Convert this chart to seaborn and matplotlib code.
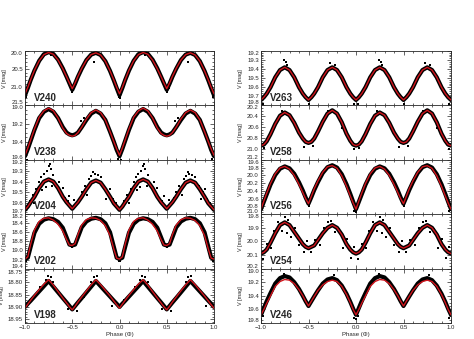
import matplotlib
matplotlib.use("Agg")
import matplotlib.pyplot as plt
import seaborn as sns
import pandas as pd
from matplotlib.ticker import MultipleLocator, FormatStrFormatter

sns.set_style("ticks")
plt.rcParams['font.family'] = ['Liberation Sans', 'DejaVu Sans']

# phase grid of one cycle (data are shown twice, -1..0 and 0..1, as in the source)
PHASE = [0.00, 0.03, 0.06, 0.10, 0.15, 0.20, 0.25, 0.30, 0.35, 0.40, 0.44, 0.47, 0.50,
         0.53, 0.56, 0.60, 0.65, 0.70, 0.75, 0.80, 0.85, 0.90, 0.94, 0.97, 1.00]

STARS_LEFT = ["V240", "V238", "V204", "V202", "V198"]
STARS_RIGHT = ["V263", "V258", "V256", "V254", "V246"]

# observed light curves (V mag)
V240_OBS = [21.22, 21.02, 20.80, 20.54, 20.27, 20.09, 20.03, 20.08, 20.24, 20.48, 20.71, 20.89, 21.07,
            20.90, 20.71, 20.49, 20.25, 20.10, 20.05, 20.11, 20.28, 20.55, 20.81, 21.02, 21.22]
V238_OBS = [19.56, 19.48, 19.39, 19.27, 19.14, 19.07, 19.04, 19.07, 19.14, 19.24, 19.30, 19.32, 19.33,
            19.32, 19.30, 19.24, 19.16, 19.09, 19.06, 19.09, 19.16, 19.29, 19.40, 19.49, 19.56]
V204_OBS = [19.66, 19.63, 19.59, 19.54, 19.46, 19.40, 19.38, 19.40, 19.46, 19.54, 19.59, 19.62, 19.65,
            19.62, 19.59, 19.54, 19.47, 19.41, 19.39, 19.41, 19.47, 19.54, 19.60, 19.63, 19.66]
V202_OBS = [19.19, 19.16, 18.92, 18.61, 18.41, 18.32, 18.29, 18.31, 18.37, 18.50, 18.71, 18.87, 18.89,
            18.87, 18.71, 18.49, 18.36, 18.30, 18.28, 18.31, 18.40, 18.60, 18.92, 19.16, 19.19]
V198_OBS = [18.900, 18.887, 18.875, 18.858, 18.837, 18.816, 18.795, 18.818, 18.841, 18.864, 18.882, 18.896, 18.910,
            18.896, 18.882, 18.864, 18.841, 18.818, 18.795, 18.816, 18.837, 18.858, 18.875, 18.887, 18.900]
V263_OBS = [19.74, 19.71, 19.67, 19.60, 19.49, 19.41, 19.38, 19.41, 19.49, 19.60, 19.67, 19.71, 19.74,
            19.71, 19.67, 19.60, 19.49, 19.41, 19.38, 19.41, 19.49, 19.60, 19.67, 19.71, 19.74]
V258_OBS = [20.94, 20.92, 20.86, 20.73, 20.54, 20.39, 20.33, 20.38, 20.52, 20.70, 20.81, 20.87, 20.89,
            20.87, 20.81, 20.68, 20.50, 20.35, 20.29, 20.35, 20.51, 20.72, 20.85, 20.92, 20.94]
V256_OBS = [20.87, 20.68, 20.49, 20.24, 19.99, 19.83, 19.77, 19.82, 19.96, 20.18, 20.39, 20.57, 20.73,
            20.56, 20.38, 20.17, 19.94, 19.79, 19.74, 19.80, 19.97, 20.23, 20.48, 20.68, 20.87]
V254_OBS = [20.09, 20.08, 20.06, 20.01, 19.94, 19.88, 19.86, 19.88, 19.93, 19.98, 20.02, 20.04, 20.05,
            20.04, 20.03, 19.99, 19.94, 19.90, 19.88, 19.90, 19.95, 20.02, 20.06, 20.08, 20.09]
V246_OBS = [19.68, 19.58, 19.48, 19.36, 19.22, 19.14, 19.11, 19.13, 19.20, 19.30, 19.40, 19.48, 19.55,
            19.48, 19.41, 19.32, 19.22, 19.16, 19.14, 19.17, 19.25, 19.37, 19.49, 19.59, 19.68]

# model fits (red)
V240_MOD = [21.18, 21.00, 20.79, 20.53, 20.27, 20.10, 20.04, 20.09, 20.25, 20.49, 20.71, 20.88, 21.04,
            20.88, 20.70, 20.48, 20.25, 20.10, 20.05, 20.11, 20.28, 20.55, 20.80, 21.00, 21.18]
V238_MOD = [19.55, 19.47, 19.38, 19.26, 19.13, 19.06, 19.03, 19.06, 19.14, 19.25, 19.31, 19.33, 19.34,
            19.33, 19.30, 19.24, 19.15, 19.08, 19.05, 19.08, 19.16, 19.29, 19.40, 19.48, 19.55]
V204_MOD = V204_OBS
V202_MOD = [19.19, 19.14, 18.86, 18.55, 18.36, 18.29, 18.28, 18.33, 18.42, 18.57, 18.76, 18.88, 18.89,
            18.85, 18.65, 18.44, 18.32, 18.28, 18.29, 18.34, 18.45, 18.67, 18.97, 19.17, 19.19]
V198_MOD = [18.905, 18.889, 18.873, 18.853, 18.830, 18.808, 18.790, 18.812, 18.838, 18.864, 18.884, 18.899, 18.912,
            18.897, 18.880, 18.860, 18.835, 18.811, 18.790, 18.810, 18.833, 18.856, 18.876, 18.891, 18.905]
V263_MOD = V263_OBS
V258_MOD = V258_OBS
V256_MOD = [20.87, 20.66, 20.46, 20.21, 19.96, 19.81, 19.77, 19.84, 20.00, 20.23, 20.44, 20.60, 20.73,
            20.54, 20.35, 20.14, 19.92, 19.78, 19.75, 19.82, 20.01, 20.28, 20.53, 20.71, 20.87]
V254_MOD = V254_OBS
V246_MOD = [19.68, 19.60, 19.51, 19.40, 19.26, 19.19, 19.16, 19.17, 19.22, 19.31, 19.40, 19.48, 19.55,
            19.48, 19.41, 19.32, 19.24, 19.19, 19.17, 19.19, 19.26, 19.38, 19.50, 19.60, 19.68]

# scattered individual measurements away from the main band (phase in 0..1)
V240_OUT_PH = [0.00, 0.01, 0.99, 0.50, 0.52, 0.73, 0.27]
V240_OUT_MAG = [21.30, 21.27, 21.28, 21.12, 21.02, 20.30, 20.12]
V238_OUT_PH = [0.59, 0.02, 0.98, 0.62, 0.26]
V238_OUT_MAG = [19.17, 19.60, 19.59, 19.14, 19.00]
V204_OUT_PH = [0.05, 0.08, 0.12, 0.15, 0.17, 0.20, 0.23, 0.25, 0.26, 0.27, 0.30, 0.32, 0.35, 0.38,
               0.40, 0.42, 0.45, 0.55, 0.58, 0.60, 0.63, 0.68, 0.72, 0.74, 0.77, 0.80, 0.84, 0.88,
               0.90, 0.93, 0.96, 0.10, 0.22, 0.36, 0.66, 0.86, 0.18, 0.29, 0.47, 0.52, 0.70, 0.82]
V204_OUT_MAG = [19.58, 19.52, 19.47, 19.40, 19.36, 19.33, 19.30, 19.26, 19.24, 19.28, 19.34, 19.42,
                19.47, 19.50, 19.46, 19.55, 19.58, 19.60, 19.55, 19.50, 19.44, 19.38, 19.31, 19.33,
                19.34, 19.36, 19.44, 19.50, 19.47, 19.56, 19.60, 19.60, 19.45, 19.40, 19.52, 19.56,
                19.48, 19.44, 19.53, 19.57, 19.35, 19.42]
V202_OUT_PH = [0.01, 0.99, 0.50]
V202_OUT_MAG = [19.24, 19.23, 18.93]
V198_OUT_PH = [0.24, 0.27, 0.76, 0.73, 0.22, 0.45, 0.92, 0.55, 0.30, 0.70, 0.05, 0.62, 0.16]
V198_OUT_MAG = [18.775, 18.780, 18.775, 18.780, 18.790, 18.910, 18.895, 18.915, 18.800, 18.800, 18.870, 18.860, 18.820]
V263_OUT_PH = [0.24, 0.26, 0.27, 0.73, 0.78, 0.02, 0.98, 0.50]
V263_OUT_MAG = [19.30, 19.32, 19.35, 19.33, 19.35, 19.79, 19.78, 19.78]
V258_OUT_PH = [0.45, 0.98, 0.03, 0.55, 0.85, 0.22, 0.70]
V258_OUT_MAG = [20.97, 21.00, 20.98, 20.95, 20.62, 20.30, 20.30]
V256_OUT_PH = [0.00, 0.50, 0.98]
V256_OUT_MAG = [20.95, 20.80, 20.93]
V254_OUT_PH = [0.02, 0.06, 0.10, 0.14, 0.18, 0.22, 0.25, 0.28, 0.32, 0.36, 0.40, 0.45, 0.48,
               0.53, 0.57, 0.62, 0.66, 0.70, 0.74, 0.78, 0.82, 0.86, 0.90, 0.95, 0.98, 0.27, 0.12]
V254_OUT_MAG = [20.13, 20.02, 20.05, 19.92, 19.86, 19.92, 19.82, 19.84, 19.97, 19.90, 20.03, 20.08, 20.00,
                20.08, 19.99, 20.03, 19.90, 19.86, 19.85, 19.93, 19.91, 20.05, 19.98, 20.12, 20.04, 19.94, 20.00]
V246_OUT_PH = [0.00, 0.02, 0.98, 0.24, 0.77]
V246_OUT_MAG = [19.74, 19.70, 19.72, 19.08, 19.10]

OBS = {"V240": V240_OBS, "V238": V238_OBS, "V204": V204_OBS, "V202": V202_OBS, "V198": V198_OBS,
       "V263": V263_OBS, "V258": V258_OBS, "V256": V256_OBS, "V254": V254_OBS, "V246": V246_OBS}
MOD = {"V240": V240_MOD, "V238": V238_MOD, "V204": V204_MOD, "V202": V202_MOD, "V198": V198_MOD,
       "V263": V263_MOD, "V258": V258_MOD, "V256": V256_MOD, "V254": V254_MOD, "V246": V246_MOD}
OUT = {"V240": (V240_OUT_PH, V240_OUT_MAG), "V238": (V238_OUT_PH, V238_OUT_MAG),
       "V204": (V204_OUT_PH, V204_OUT_MAG), "V202": (V202_OUT_PH, V202_OUT_MAG),
       "V198": (V198_OUT_PH, V198_OUT_MAG), "V263": (V263_OUT_PH, V263_OUT_MAG),
       "V258": (V258_OUT_PH, V258_OUT_MAG), "V256": (V256_OUT_PH, V256_OUT_MAG),
       "V254": (V254_OUT_PH, V254_OUT_MAG), "V246": (V246_OUT_PH, V246_OUT_MAG)}

# y axis ranges (faint, bright), major and minor tick steps, label format
YAX = {"V240": (21.5, 20.0, 0.5, 0.1, "%.1f"), "V238": (19.6, 19.0, 0.2, 0.05, "%.1f"),
       "V204": (19.7, 19.2, 0.1, 0.02, "%.1f"), "V202": (19.4, 18.2, 0.2, 0.05, "%.1f"),
       "V198": (18.965, 18.745, 0.05, 0.01, "%.2f"), "V263": (19.8, 19.2, 0.1, 0.02, "%.1f"),
       "V258": (21.2, 20.2, 0.2, 0.05, "%.1f"), "V256": (21.0, 19.6, 0.2, 0.05, "%.1f"),
       "V254": (20.2, 19.8, 0.1, 0.02, "%.1f"), "V246": (19.8, 19.0, 0.2, 0.05, "%.1f")}


def both_cycles(ph, mag):
    x = [p - 1 for p in ph] + list(ph[1:])
    y = list(mag) + list(mag[1:])
    return pd.DataFrame({"phase": x, "mag": y})


W, H = 474, 339
fig = plt.figure(figsize=(W / 100, H / 100), dpi=100)

top_px, bot_px = 51, 323
ph_h = (bot_px - top_px) / 5
cols = [(25, 189, STARS_LEFT), (261, 190, STARS_RIGHT)]
axes = []

for left_px, width_px, stars in cols:
    for i, star in enumerate(stars):
        y_top = top_px + i * ph_h
        ax = fig.add_axes([left_px / W, 1 - (y_top + ph_h) / H, width_px / W, ph_h / H])
        obs = both_cycles(PHASE, OBS[star])
        mod = both_cycles(PHASE, MOD[star])
        oph, omag = OUT[star]
        outdf = pd.DataFrame({"phase": [p - 1 for p in oph] + list(oph), "mag": list(omag) + list(omag)})
        sns.lineplot(data=obs, x="phase", y="mag", sort=False, estimator=None, color="black",
                     lw=3.0, ax=ax)
        sns.scatterplot(data=outdf, x="phase", y="mag", color="black", s=3, marker="s",
                        linewidth=0, ax=ax)
        sns.lineplot(data=mod, x="phase", y="mag", sort=False, estimator=None, color="#d0141c",
                     lw=1.0, ax=ax)
        faint, bright, maj, mnr, fmt = YAX[star]
        ax.set_ylim(faint, bright)
        ax.set_xlim(-1.0, 1.0)
        ax.yaxis.set_major_locator(MultipleLocator(maj))
        ax.yaxis.set_minor_locator(MultipleLocator(mnr))
        ax.yaxis.set_major_formatter(FormatStrFormatter(fmt))
        ax.xaxis.set_major_locator(MultipleLocator(0.5))
        ax.xaxis.set_minor_locator(MultipleLocator(0.1))
        ax.tick_params(which="both", direction="in", top=True, right=True, width=0.5,
                       labelsize=4.3, pad=1.5)
        ax.tick_params(which="major", length=3)
        ax.tick_params(which="minor", length=1.5)
        for s in ax.spines.values():
            s.set_linewidth(0.6)
        ax.set_ylabel("V [mag]", fontsize=4, labelpad=3)
        if i == 4:
            ax.set_xlabel("Phase (Φ)", fontsize=4.3, labelpad=1.5)
        else:
            ax.set_xlabel("")
            ax.tick_params(labelbottom=False)
        ax.text(0.045, 0.05, star, transform=ax.transAxes, fontsize=7, fontweight="bold",
                ha="left", va="bottom")
        axes.append((ax, faint, bright, maj))

# keep the end tick labels of stacked panels from running into each other
fig.canvas.draw()
for ax, faint, bright, maj in axes:
    for tick in ax.yaxis.get_major_ticks():
        loc = tick.get_loc()
        if abs(loc - bright) < maj * 0.3:
            tick.label1.set_verticalalignment("top")
        elif abs(loc - faint) < maj * 0.3:
            tick.label1.set_verticalalignment("bottom")

fig.savefig("out.png", dpi=100)
